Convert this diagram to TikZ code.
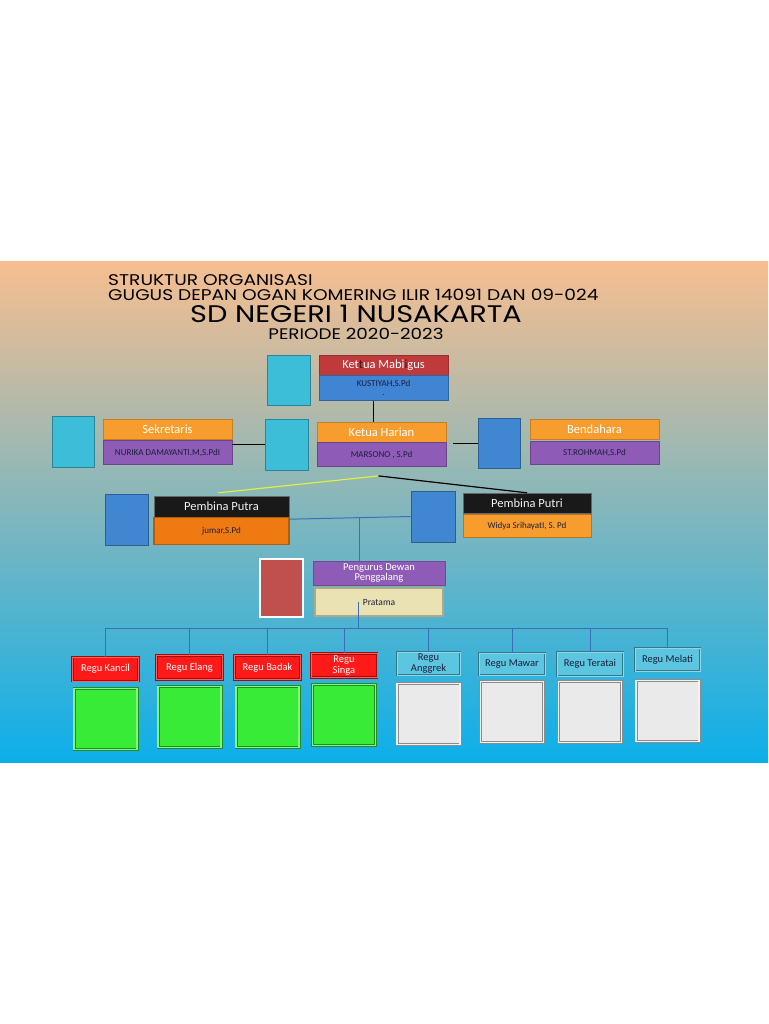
\documentclass[tikz,border=0pt]{standalone}
\usepackage{fontspec}
\setmainfont{Carlito}
\newfontfamily\titlefont{Poppins}
\usetikzlibrary{positioning, calc}
\definecolor{bgpeach}{RGB}{247, 190, 144}
\definecolor{bgteal}{RGB}{125, 187, 196}
\definecolor{bgblue}{RGB}{12, 175, 234}
\definecolor{sqcyan}{RGB}{60, 190, 216}
\definecolor{sqblue}{RGB}{64, 134, 208}
\definecolor{hdrred}{RGB}{192, 57, 59}
\definecolor{hdrorange}{RGB}{247, 157, 45}
\definecolor{namepurple}{RGB}{142, 92, 182}
\definecolor{nameblue}{RGB}{64, 132, 212}
\definecolor{darkorange}{RGB}{240, 122, 18}
\definecolor{pengred}{RGB}{192, 80, 77}
\definecolor{khaki}{RGB}{235, 226, 180}
\definecolor{regured}{RGB}{255, 26, 26}
\definecolor{regugreen}{RGB}{55, 235, 55}
\definecolor{reguteal}{RGB}{92, 198, 224}
\definecolor{regugrey}{RGB}{234, 234, 234}
\definecolor{linkblue}{RGB}{58, 112, 185}
\definecolor{linkyellow}{RGB}{225, 240, 60}
\definecolor{inknavy}{RGB}{28, 30, 60}

\tikzset{
  judulteks/.style={inner sep=0pt, xscale=1.2, transform shape, font=\titlefont\fontsize{#1}{#1}\selectfont},
  sq/.style={draw=#1!70!black, fill=#1, line width=0.8pt, inner sep=0pt},
  hdr/.style={fill=#1, draw=#1!80!black, line width=0.6pt, minimum width=129pt, minimum height=20pt, inner sep=0pt, text=white, font=\fontsize{12.5}{12.5}\selectfont},
  namebox/.style={fill=#1, draw=#1!75!black, line width=0.6pt, minimum width=129pt, minimum height=24pt, inner sep=0pt, text=inknavy, align=center, font=\fontsize{9}{9.5}\selectfont},
  pembina/.style={left color=black!90, middle color=black!50, right color=black!90, draw=black!60, minimum height=20pt, inner sep=0pt, text=black!5, font=\fontsize{12.5}{12.5}\selectfont},
  regu/.style={fill=#1, draw=#1!60!black, double=#1!70!white, double distance=0.8pt, line width=0.7pt, minimum width=66pt, minimum height=24pt, inner sep=0pt, align=center, font=\fontsize{10.5}{10.5}\selectfont},
  rbox/.style={fill=#1, draw=#1!60!black, double=#1!60!white, double distance=1.4pt, line width=0.8pt, minimum width=63pt, minimum height=61pt, inner sep=0pt}
}

\begin{document}
\begin{tikzpicture}[x=1pt, y=-1pt]
    \useasboundingbox (0,0) rectangle (768,1024);
    \fill[white] (0,0) rectangle (768,1024);
    \fill[top color=bgpeach, middle color=bgteal, bottom color=bgblue] (0,261) rectangle (768,762);

    % judul
    \node[judulteks=15.5, anchor=west] (judul) at (108,280.3) {STRUKTUR ORGANISASI};
    \node[judulteks=15.5, anchor=west] (gugus) at (108,295.3) {GUGUS DEPAN OGAN KOMERING ILIR 14091 DAN 09-024};
    \node[judulteks=24] (sekolah) at (356,313.5) {SD NEGERI 1 NUSAKARTA};
    \node[judulteks=15.3] (periode) at (356,333.7) {PERIODE 2020-2023};

    % pengurus inti
    \node[sq=sqcyan, minimum width=43pt, minimum height=50pt] (sqmabi) at (288.5,380) {};
    \node[hdr=hdrred] (mabigus) at (383.5,365) {Ket{\color{hdrred!35!black}t}ua Mabi{\color{hdrred!35!black}i}gus};
    \node[namebox=nameblue, minimum height=25pt, below=0pt of mabigus] (mabiname) {KUSTIYAH,S.Pd\\.};

    \node[sq=sqcyan, minimum width=43pt, minimum height=51pt] (sqharian) at (286.5,444.5) {};
    \node[hdr=hdrorange] (harian) at (381.5,432) {Ketua Harian};
    \node[namebox=namepurple, below=0pt of harian] (harianname) {MARSONO , S.Pd};

    \node[sq=sqcyan, minimum width=42pt, minimum height=51pt] (sqsekre) at (73,441.5) {};
    \node[hdr=hdrorange] (sekre) at (167.5,429) {Sekretaris};
    \node[namebox=namepurple, below=1pt of sekre] (sekrename) {NURIKA DAMAYANTI.M,S.PdI};

    \node[sq=sqblue, minimum width=42pt, minimum height=50pt] (sqbenda) at (499,443) {};
    \node[hdr=hdrorange] (benda) at (594.5,429.5) {Bendahara};
    \node[namebox=namepurple, minimum height=23pt, below=1pt of benda] (bendaname) {ST.ROHMAH,S.Pd};

    % pembina
    \node[sq=sqblue, minimum width=43pt, minimum height=51pt] (sqputra) at (126.5,519.5) {};
    \node[pembina, minimum width=135pt, minimum height=21pt] (putra) at (221.5,506.5) {Pembina Putra};
    \node[namebox=darkorange, line width=1.2pt, minimum width=135pt, minimum height=27pt, below=0pt of putra] (putraname) {jumar,S.Pd};

    \node[sq=sqblue, minimum width=44pt, minimum height=51pt] (sqputri) at (433,516.5) {};
    \node[pembina, minimum width=128pt] (putri) at (527,503) {Pembina Putri};
    \node[namebox=hdrorange, minimum width=128pt, minimum height=23pt, below=1pt of putri] (putriname) {Widya SrihayatI, S. Pd};

    % dewan penggalang
    \node[sq=pengred, draw=white, line width=2pt, minimum width=43pt, minimum height=58pt] (sqpeng) at (281.5,588) {};
    \node[hdr=namepurple, minimum width=132pt, minimum height=24pt, align=center, font=\fontsize{10.5}{10}\selectfont] (pengurus) at (379,573) {Pengurus Dewan\\Penggalang};
    \node[namebox=khaki, line width=1.4pt, minimum width=128pt, minimum height=28pt, font=\fontsize{9.5}{9.5}\selectfont, below=2pt of pengurus] (pratama) {Pratama};

    % regu putra
    \node[regu=regured, text=white] (kancil) at (105.5,669) {Regu Kancil};
    \node[regu=regured, text=white] (elang) at (189.5,667.5) {Regu Elang};
    \node[regu=regured, text=white] (badak) at (267.5,667.5) {Regu Badak};
    \node[regu=regured, text=white] (singa) at (344,665.5) {Regu\\Singa};
    \node[rbox=regugreen, below=7pt of kancil] (bkancil) {};
    \node[rbox=regugreen, below=6pt of elang] (belang) {};
    \node[rbox=regugreen, below=6pt of badak] (bbadak) {};
    \node[rbox=regugreen, below=6pt of singa] (bsinga) {};

    % regu putri
    \node[regu=reguteal, text=inknavy, minimum width=63pt, minimum height=23pt] (anggrek) at (428.5,663.5) {Regu\\Anggrek};
    \node[regu=reguteal, text=inknavy, minimum height=22pt] (mawar) at (512,664) {Regu Mawar};
    \node[regu=reguteal, text=inknavy] (teratai) at (590,664) {Regu Teratai};
    \node[regu=reguteal, text=inknavy, minimum width=65pt, minimum height=23pt] (melati) at (667.5,659.5) {Regu Melati};
    \node[rbox=regugrey, below=8pt of anggrek] (banggrek) {};
    \node[rbox=regugrey, below=6pt of mawar] (bmawar) {};
    \node[rbox=regugrey, below=5pt of teratai] (bteratai) {};
    \node[rbox=regugrey, below=9pt of melati] (bmelati) {};

    % garis
    \draw[black, line width=0.8pt] ([xshift=-10pt]mabiname.south) -- ([xshift=-10pt]mabiname.south |- harian.north);
    \draw[black, line width=0.8pt] (sqharian.west) -- (sqharian.west -| sekrename.east);
    \draw[black, line width=0.8pt] (sqbenda.west) -- ([xshift=7pt]sqbenda.west -| harianname.east);
    \coordinate (pisah) at ([xshift=-3pt, yshift=-9pt]harianname.south);
    \draw[linkyellow, line width=1.2pt] (pisah) -- ([xshift=-3pt, yshift=3pt]putra.north);
    \draw[black, line width=1.2pt] (pisah) -- (putri.north);
    \draw[linkblue, line width=1pt] ([yshift=-2pt]putraname.north east) -- (sqputri.west);
    \coordinate (tengah) at ($([yshift=-2pt]putraname.north east)!0.58!(sqputri.west)$);
    \draw[linkblue, line width=1pt] (tengah) -- (tengah |- pengurus.north);
    \coordinate (bus) at (0,628);
    \draw[linkblue, line width=0.8pt] ([xshift=-21pt]pratama.center) -- ([xshift=-21pt]pratama.center |- bus);
    \draw[linkblue, line width=0.6pt] (kancil.north |- bus) -- (melati.north |- bus);
    \draw[linkblue, line width=0.6pt] (kancil.north |- bus) -- (kancil.north);
    \draw[linkblue, line width=0.6pt] (elang.north |- bus) -- (elang.north);
    \draw[linkblue, line width=0.6pt] (badak.north |- bus) -- (badak.north);
    \draw[linkblue, line width=0.6pt] (singa.north |- bus) -- (singa.north);
    \draw[linkblue, line width=0.6pt] (anggrek.north |- bus) -- (anggrek.north);
    \draw[linkblue, line width=0.6pt] (mawar.north |- bus) -- (mawar.north);
    \draw[linkblue, line width=0.6pt] (teratai.north |- bus) -- (teratai.north);
    \draw[linkblue, line width=0.6pt] (melati.north |- bus) -- (melati.north);
\end{tikzpicture}
\end{document}
